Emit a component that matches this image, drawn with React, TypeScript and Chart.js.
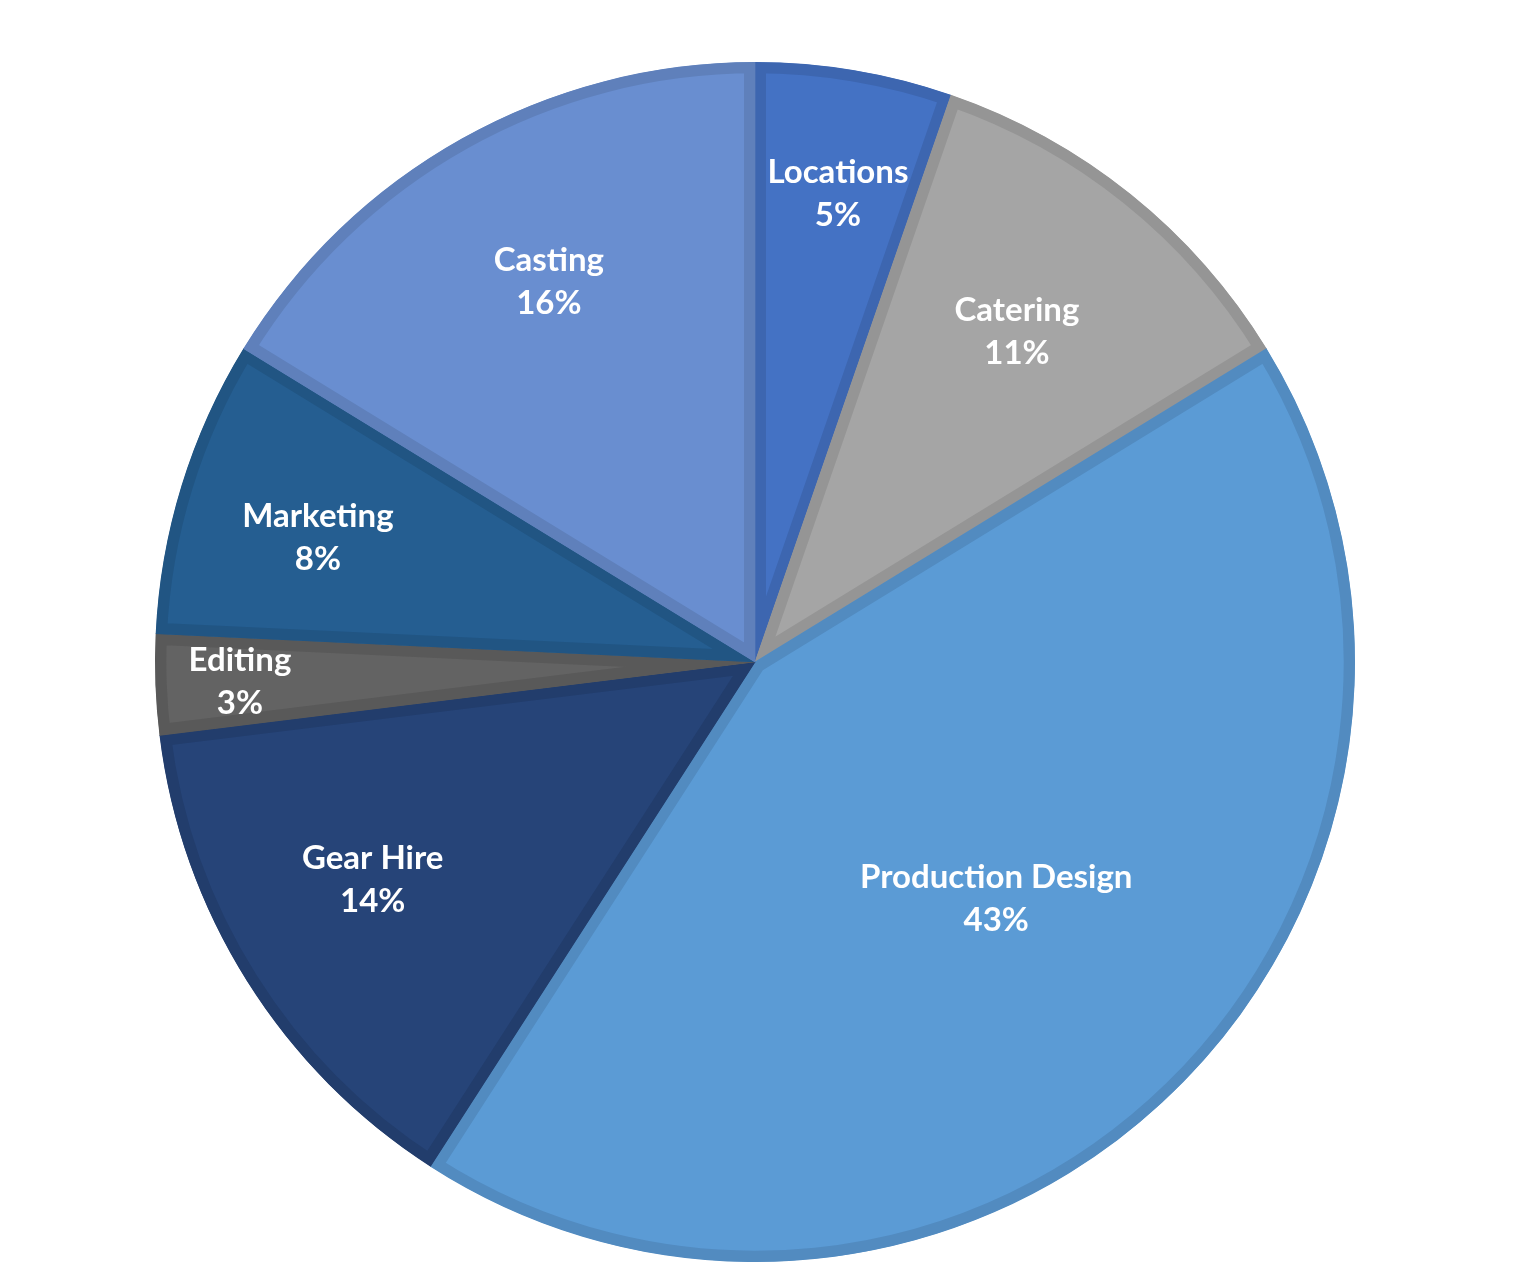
import React, { useEffect, useRef } from "react";
import { Chart, registerables } from "chart.js";

Chart.register(...registerables);

const categories = ["Locations", "Catering", "Production Design", "Gear Hire", "Editing", "Marketing", "Casting"];
const values = [5.3, 10.95, 42.85, 13.95, 2.7, 8.0, 16.25];
const fillColors = ["#4472C4", "#A5A5A5", "#5B9BD5", "#264478", "#636363", "#255E91", "#698ED0"];
const borderColors = ["#3D66B0", "#959595", "#528BC0", "#223D6C", "#595959", "#215583", "#5F80BB"];
// label placement style: radial fraction and angular shift (degrees) per slice
const labelRadius = [0.793, 0.703, 0.563, 0.733, 0.859, 0.757, 0.72];
const labelShift = [0.5, -0.4, -1.2, 2.5, 0, -1.3, 0.75];

const labelPlugin = {
  id: "sliceLabels",
  afterDatasetsDraw(chart: any) {
    const ctx = chart.ctx;
    const meta = chart.getDatasetMeta(0);
    const data = chart.data.datasets[0].data as number[];
    const total = data.reduce((a, b) => a + b, 0);
    ctx.save();
    ctx.fillStyle = "#FFFFFF";
    ctx.font = "bold 33px Lato";
    ctx.textAlign = "center";
    ctx.textBaseline = "middle";
    meta.data.forEach((arc: any, i: number) => {
      const { x, y, startAngle, endAngle, outerRadius } = arc.getProps(["x", "y", "startAngle", "endAngle", "outerRadius"], true);
      const mid = (startAngle + endAngle) / 2 + (labelShift[i] * Math.PI) / 180;
      const r = outerRadius * labelRadius[i];
      const cx = x + Math.cos(mid) * r;
      const cy = y + Math.sin(mid) * r;
      const pct = Math.round((data[i] / total) * 100) + "%";
      ctx.fillText(chart.data.labels[i], cx, cy - 21.5);
      ctx.fillText(pct, cx, cy + 21.5);
    });
    ctx.restore();
  },
};

export default function App() {
  const ref = useRef<HTMLCanvasElement>(null);
  useEffect(() => {
    if (!ref.current) return;
    const chart = new Chart(ref.current, {
      type: "pie",
      data: {
        labels: categories,
        datasets: [
          {
            data: values,
            backgroundColor: fillColors,
            borderColor: borderColors,
            borderWidth: 11,
            borderAlign: "inner",
          },
        ],
      },
      options: {
        responsive: true,
        maintainAspectRatio: false,
        animation: false,
        radius: 600,
        layout: { padding: { left: 0, right: 14, top: 38, bottom: 0 } },
        plugins: {
          legend: { display: false },
          tooltip: { enabled: false },
        },
      } as any,
      plugins: [labelPlugin],
    });
    return () => chart.destroy();
  }, []);
  return (
    <div style={{ position: "fixed", left: 0, top: 0, width: 1524, height: 1286, background: "#FFFFFF" }}>
      <canvas ref={ref} />
    </div>
  );
}
